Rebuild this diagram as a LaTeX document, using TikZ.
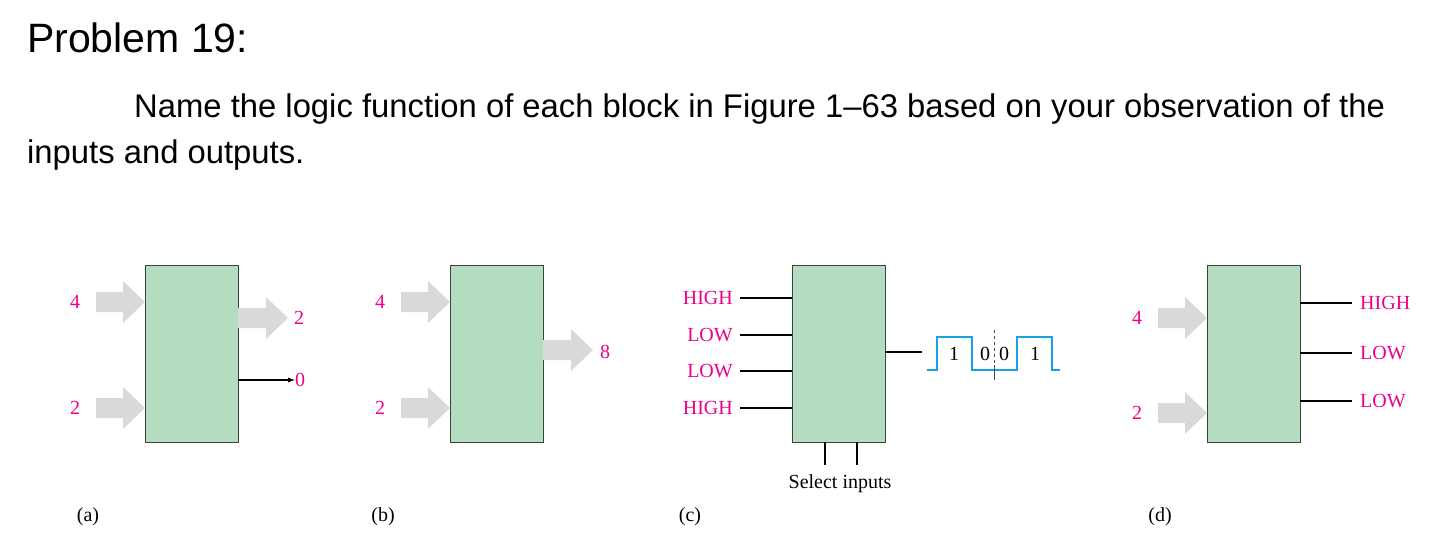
\documentclass[tikz,border=0pt]{standalone}
\usepackage{fontspec}
\setmainfont{Liberation Serif}
\newfontfamily\arial{Liberation Sans}
\begin{document}
\begin{tikzpicture}[x=1pt,y=-1pt,
 blk/.style={draw=black!75,fill={rgb,255:red,180;green,220;blue,192},line width=1pt},
 fat/.style={fill={rgb,255:red,217;green,217;blue,217}},
 lab/.style={text={rgb,255:red,236;green,0;blue,140},font=\fontsize{20}{20}\selectfont,inner sep=0pt},
 captxt/.style={font=\fontsize{20}{20}\selectfont,inner sep=0pt},
 wire/.style={line width=1.3pt}]
\useasboundingbox (0,0) rectangle (1447,541);
\node[anchor=base west,font=\arial\fontsize{41}{41}\selectfont,inner sep=0pt] (title) at (27,52) {Problem 19:};
\node[anchor=base west,font=\arial\fontsize{32.8}{33}\selectfont,inner sep=0pt] (l1) at (134,117) {Name the logic function of each block in Figure 1\textendash 63 based on your observation of the};
\node[anchor=base west,font=\arial\fontsize{32.8}{33}\selectfont,inner sep=0pt] (l2) at (27,163) {inputs and outputs.};
\newcommand{\fatarrow}[3]{% x start, y center, x end
 \fill[fat] (#1,#2-10) -- (#3-22,#2-10) -- (#3-22,#2-21) -- (#3,#2) -- (#3-22,#2+21) -- (#3-22,#2+10) -- (#1,#2+10) -- cycle;}
% (a)
\node[blk,minimum width=93pt,minimum height=177pt,inner sep=0pt] (A) at (191.5,353.5) {};
\fatarrow{96}{302}{145}\fatarrow{96}{408}{145}\fatarrow{238}{318}{288}
\node[lab] (a4) at (75,302) {4};\node[lab] (a2) at (75,408) {2};\node[lab] (ao2) at (299,318) {2};
\coordinate (ao) at (238,380);
\node[lab] (a0) at (300,380) {0};
\draw[wire,-latex] (ao) -- (a0.west);
\node[captxt] (ca) at (88,517) {(a)};
% (b)
\node[blk,minimum width=93pt,minimum height=177pt,inner sep=0pt] (B) at (496.5,353.5) {};
\fatarrow{401}{302}{450}\fatarrow{401}{408}{450}\fatarrow{543}{350}{593}
\node[lab] (b4) at (380,302) {4};\node[lab] (b2) at (380,408) {2};\node[lab] (b8) at (605,352) {8};
\node[captxt] (cb) at (383,517) {(b)};
% (c)
\node[blk,minimum width=93pt,minimum height=177pt,inner sep=0pt] (C) at (838.5,353.5) {};
\foreach \t/\y/\n in {HIGH/298/1,LOW/335/2,LOW/371/3,HIGH/408/4}{
 \node[lab,anchor=east] (ci\n) at (733,\y) {\t};
 \draw[wire] (740,\y) -- (792,\y);}
\draw[wire] (885,352) -- (922,352);
\draw[line width=1.8pt,draw={rgb,255:red,27;green,161;blue,226}] (927,370) -- (937,370) -- (937,337) -- (972,337) -- (972,370) -- (1017,370) -- (1017,337) -- (1052,337) -- (1052,370) -- (1060,370);
\node[captxt] (w1) at (954,354) {1};\node[captxt] (w2) at (985,354) {0};
\node[captxt] (w3) at (1004,354) {0};\node[captxt] (w4) at (1035,354) {1};
\draw[black!70,dashed,line width=0.8pt] (994,330) -- (994,365);
\draw[black!70,line width=0.8pt] (994,365) -- (994,380);
\draw[wire] (825,442) -- (825,465); \draw[wire] (857,442) -- (857,465);
\node[captxt] (sel) at (840,484) {Select inputs};
\node[captxt] (cc) at (690,517) {(c)};
% (d)
\node[blk,minimum width=93pt,minimum height=177pt,inner sep=0pt] (D) at (1253.5,353.5) {};
\fatarrow{1158}{318}{1207}\fatarrow{1158}{413}{1207}
\node[lab] (d4) at (1137,318) {4};\node[lab] (d2) at (1137,413) {2};
\foreach \t/\y/\n in {HIGH/303/1,LOW/353/2,LOW/401/3}{
 \node[lab,anchor=west] (do\n) at (1360,\y) {\t};
 \draw[wire] (1300,\y) -- (1352,\y);}
\node[captxt] (cd) at (1160,517) {(d)};
\end{tikzpicture}
\end{document}
